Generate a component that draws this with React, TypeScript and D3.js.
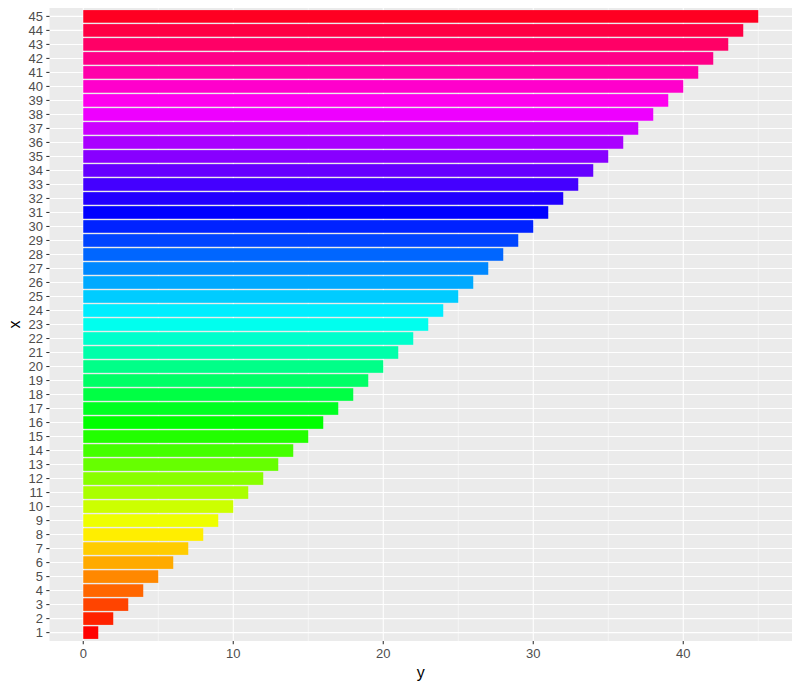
import React from "react";
import * as d3 from "d3";

const categories: number[] = d3.range(1, 46);
const values: number[] = d3.range(1, 46);
const xTicks: number[] = [0, 10, 20, 30, 40];
const xMinor: number[] = [5, 15, 25, 35, 45];

const W = 800, H = 688;
const left = 49.5, right = 792, top = 8, bottom = 641;

function hsv(h: number): string {
  const i = Math.floor(h * 6);
  const f = h * 6 - i;
  const q = 1 - f;
  const t = f;
  let r = 0, g = 0, b = 0;
  switch (i % 6) {
    case 0: r = 1; g = t; b = 0; break;
    case 1: r = q; g = 1; b = 0; break;
    case 2: r = 0; g = 1; b = t; break;
    case 3: r = 0; g = q; b = 1; break;
    case 4: r = t; g = 0; b = 1; break;
    case 5: r = 1; g = 0; b = q; break;
  }
  return d3.rgb(r * 255, g * 255, b * 255).formatHex();
}

export default function App() {
  const x = d3.scaleLinear().domain([-2.25, 47.25]).range([left, right]);
  const n = categories.length;
  const y = d3.scaleLinear().domain([0.4, n + 0.6]).range([bottom, top]);
  const bh = y(0) - y(0.9);
  const colors = categories.map((_, i) => hsv(i / n));
  const font = "'Liberation Sans', Arial, sans-serif";
  return (
    <svg width={W} height={H} style={{ position: "absolute", left: 0, top: 0, background: "#fff" }} fontFamily={font}>
      <rect x={left} y={top} width={right - left} height={bottom - top} fill="#EBEBEB" />
      {xMinor.map((t) => (
        <line key={"m" + t} x1={x(t)} x2={x(t)} y1={top} y2={bottom} stroke="#fff" strokeWidth={0.53} />
      ))}
      {xTicks.map((t) => (
        <line key={"g" + t} x1={x(t)} x2={x(t)} y1={top} y2={bottom} stroke="#fff" strokeWidth={1.07} />
      ))}
      {categories.map((c) => (
        <line key={"h" + c} x1={left} x2={right} y1={y(c)} y2={y(c)} stroke="#fff" strokeWidth={1.07} />
      ))}
      {categories.map((c, i) => (
        <rect key={"b" + c} x={x(0)} width={x(values[i]) - x(0)} y={y(c) - bh / 2} height={bh} fill={colors[i]} />
      ))}
      {categories.map((c) => (
        <g key={"t" + c}>
          <line x1={left - 3.2} x2={left} y1={y(c)} y2={y(c)} stroke="#333" strokeWidth={1.07} />
          <text x={left - 6.5} y={y(c)} dy="0.36em" textAnchor="end" fontSize={13} fill="#4D4D4D">{c}</text>
        </g>
      ))}
      {xTicks.map((t) => (
        <g key={"xt" + t}>
          <line x1={x(t)} x2={x(t)} y1={bottom} y2={bottom + 3.2} stroke="#333" strokeWidth={1.07} />
          <text x={x(t)} y={658} textAnchor="middle" fontSize={13} fill="#4D4D4D">{t}</text>
        </g>
      ))}
      <text x={(left + right) / 2} y={678} textAnchor="middle" fontSize={16} fill="#000">y</text>
      <text transform={`translate(20,${(top + bottom) / 2}) rotate(-90)`} textAnchor="middle" fontSize={16} fill="#000">x</text>
    </svg>
  );
}
